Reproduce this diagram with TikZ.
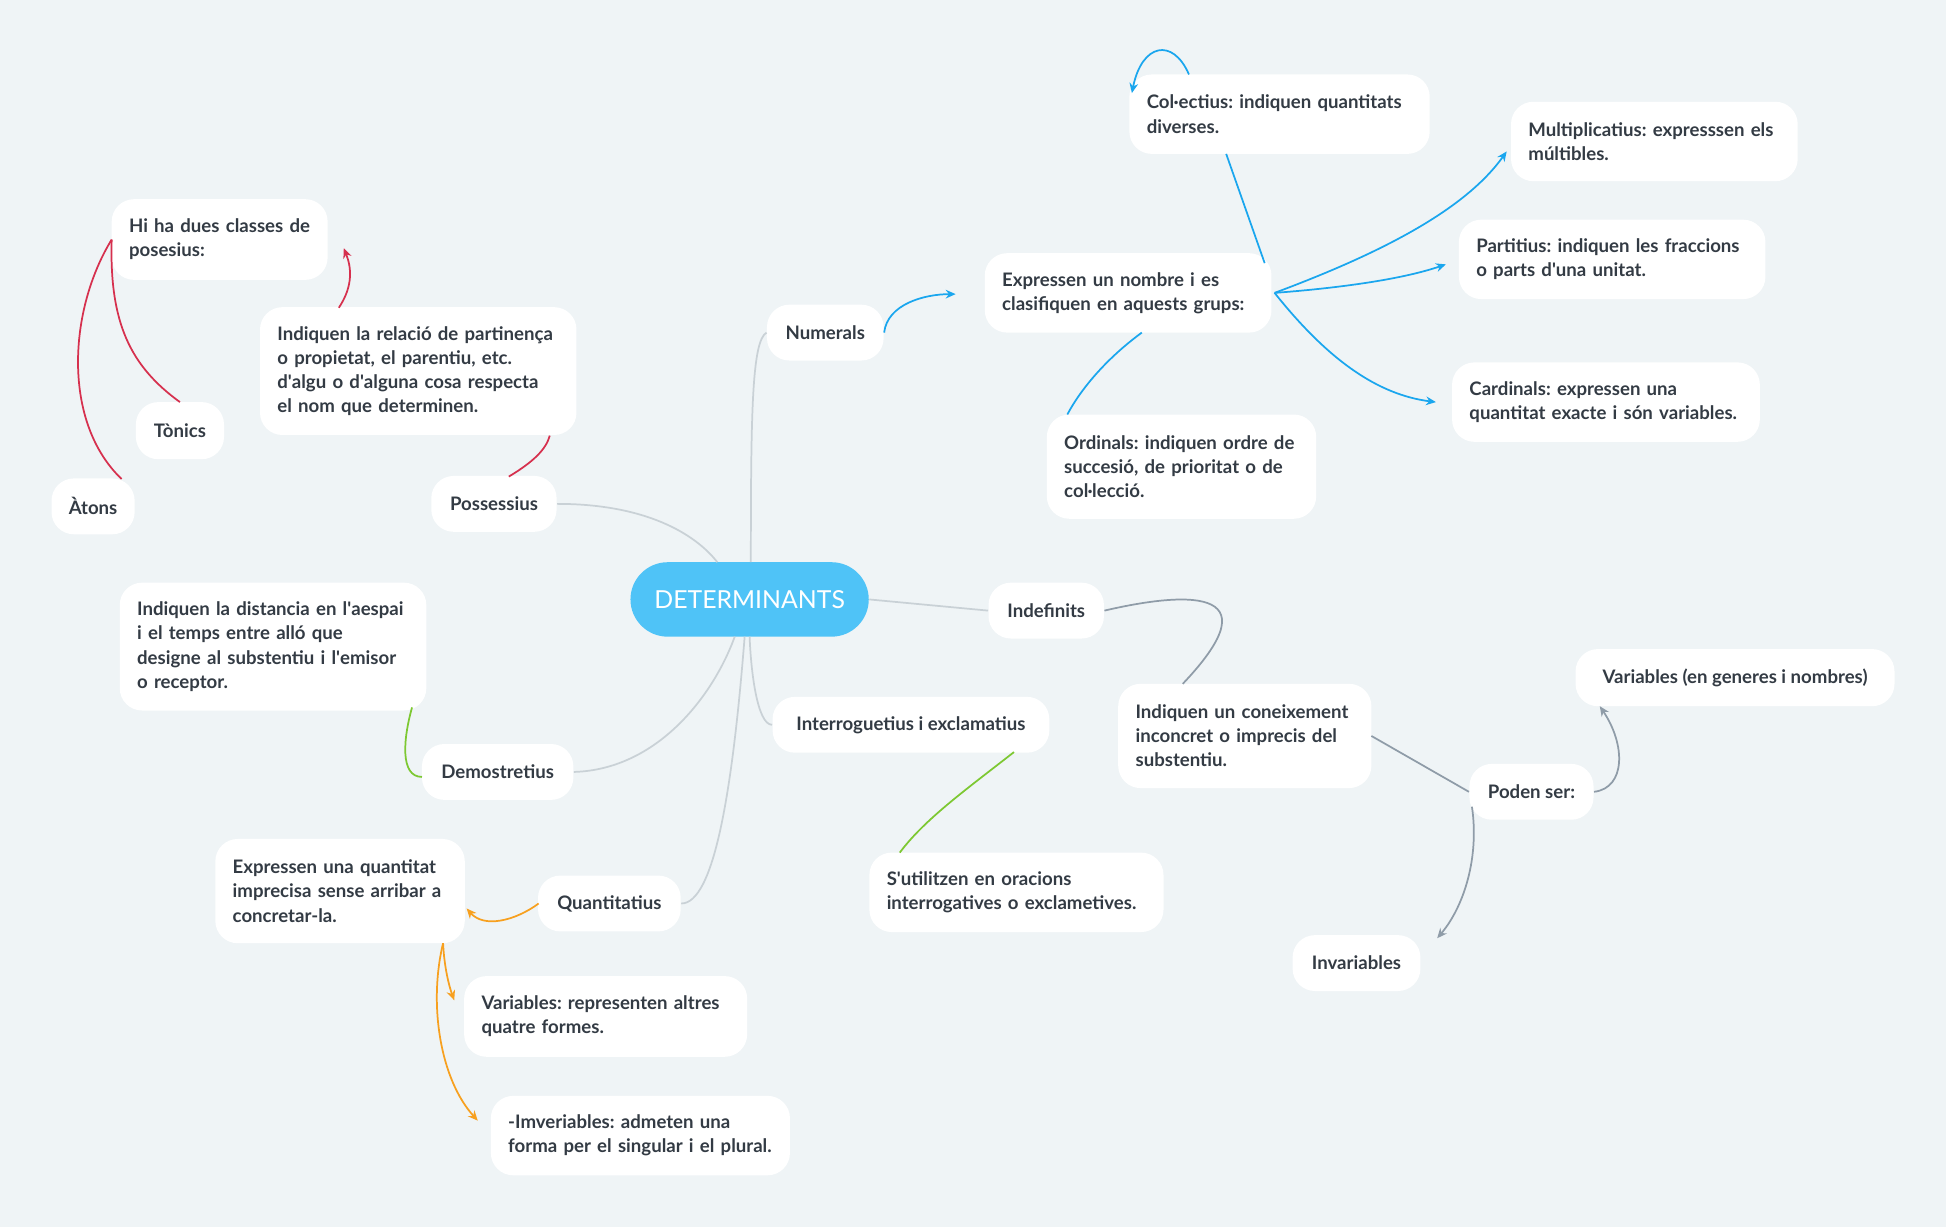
\documentclass[tikz,border=0pt]{standalone}
\usepackage{fontspec}
\setmainfont{Lato}
\frenchspacing
\usetikzlibrary{arrows.meta}
\definecolor{bg}{HTML}{EFF4F6}
\definecolor{mainc}{HTML}{4FC3F7}
\definecolor{gl}{HTML}{C9D1D6}
\definecolor{bl}{HTML}{1AA6EE}
\definecolor{rd}{HTML}{D6304E}
\definecolor{gr}{HTML}{7DC832}
\definecolor{og}{HTML}{F7A01F}
\definecolor{gb}{HTML}{8F9CA8}
\definecolor{tx}{HTML}{333B44}
\newcommand{\q}{\textquotesingle}
\tikzset{
 bx/.style 2 args={draw=none,fill=white,rounded corners=9pt,inner xsep=7pt,inner ysep=0pt,
   minimum width=#1*0.5pt,minimum height=#2*0.5pt,text width=#1*0.5pt-14pt,align=left,
   font=\fontsize{7.5}{9.75}\selectfont\bfseries,text=tx},
 sm/.style 2 args={draw=none,fill=white,rounded corners=9pt,inner sep=0pt,
   minimum width=#1*0.5pt,minimum height=#2*0.5pt,align=center,
   font=\fontsize{7.5}{9.75}\selectfont\bfseries,text=tx},
 ln/.style={line width=0.7pt},
 ar/.style={line width=0.7pt,-{Stealth[length=4pt,width=3.5pt]}},
}
\begin{document}
\begin{tikzpicture}[x=0.5pt,y=-0.5pt]
\fill[bg] (0,0) rectangle (1568,989);
\useasboundingbox (0,0) rectangle (1568,989);
\node[fill=mainc,rounded corners=15pt,minimum width=96pt,minimum height=30pt,text=white,font=\fontsize{10}{12}\selectfont] (main) at (604,483) {DETERMINANTS};
\node[sm={94}{45}] (num) at (665,268) {Numerals};
\node[bx={231}{64}] (exp) at (909,236) {Expressen un nombre i es\\clasifiquen en aquests grups:};
\node[bx={242}{64}] (col) at (1031,92) {Col·ectius: indiquen quantitats\\diverses.};
\node[bx={231}{64}] (mul) at (1333,114) {Multiplicatius: expresssen els\\múltibles.};
\node[bx={247}{64}] (par) at (1299,209) {Partitius: indiquen les fraccions\\o parts d\q una unitat.};
\node[bx={248}{64}] (car) at (1294,324) {Cardinals: expressen una\\quantitat exacte i són variables.};
\node[bx={217}{84}] (ord) at (952,376) {Ordinals: indiquen ordre de\\succesió, de prioritat o de\\col·lecció.};
\node[sm={101}{45}] (pos) at (398,406) {Possessius};
\node[bx={255}{103}] (rel) at (337,299) {Indiquen la relació de partinença\\o propietat, el parentiu, etc.\\d\q algu o d\q alguna cosa respecta\\el nom que determinen.};
\node[bx={174}{65}] (hi) at (177,193) {Hi ha dues classes de\\posesius:};
\node[sm={71}{46}] (ton) at (145,347) {Tònics};
\node[sm={67}{45}] (ato) at (75,408) {Àtons};
\node[sm={122}{45}] (dem) at (401,622) {Demostretius};
\node[bx={247}{103}] (dis) at (220,521) {Indiquen la distancia en l\q aespai\\i el temps entre alló que\\designe al substentiu i l\q emisor\\o receptor.};
\node[sm={115}{45}] (qua) at (491,728) {Quantitatius};
\node[bx={201}{84}] (eq) at (274,718) {Expressen una quantitat\\imprecisa sense arribar a\\concretar-la.};
\node[bx={228}{65}] (var) at (488,819) {Variables: representen altres\\quatre formes.};
\node[bx={241}{64}] (imv) at (516,915) {-Imveriables: admeten una\\forma per el singular i el plural.};
\node[sm={223}{45}] (int) at (734,584) {Interroguetius i exclamatius};
\node[bx={237}{64}] (sut) at (819,719) {S\q utilitzen en oracions\\interrogatives o exclametives.};
\node[sm={93}{45}] (ind) at (843,492) {Indefinits};
\node[bx={204}{84}] (con) at (1003,593) {Indiquen un coneixement\\inconcret o imprecis del\\substentiu.};
\node[sm={100}{45}] (pod) at (1234,638) {Poden ser:};
\node[sm={257}{46}] (vg) at (1398,546) {Variables (en generes i nombres)};
\node[sm={103}{45}] (inv) at (1093,776) {Invariables};

% gray main branches
\draw[ln,gl] (pos.east) .. controls (520,406) and (560,430) .. (578,453);
\draw[ln,gl] (num.west) .. controls (606,275) and (605,330) .. (605,453);
\draw[ln,gl] (dem.east) .. controls (530,620) and (575,560) .. (592,513);
\draw[ln,gl] (qua.east) .. controls (575,728) and (590,640) .. (600,513);
\draw[ln,gl] (int.west) .. controls (610,584) and (605,540) .. (604,513);
\draw[ln,gl] (main.east) -- (ind.west);
% blue
\draw[ar,bl] (num.east) .. controls (715,245) and (745,237) .. (770,237);
\draw[ln,bl] (1019,212) -- (988,124);
\draw[ar,bl] (958,60) .. controls (945,30) and (920,35) .. (912,75);
\draw[ar,bl] (1027,236) .. controls (1110,205) and (1180,170) .. (1214,122);
\draw[ar,bl] (1027,236) .. controls (1080,232) and (1130,225) .. (1165,213);
\draw[ar,bl] (1027,236) .. controls (1070,290) and (1110,318) .. (1157,324);
\draw[ln,bl] (920,268) .. controls (890,290) and (870,315) .. (860,334);
% red
\draw[ln,rd] (410,384) .. controls (430,372) and (440,362) .. (443,351);
\draw[ar,rd] (273,248) .. controls (285,230) and (283,215) .. (277,200);
\draw[ln,rd] (90,193) .. controls (88,260) and (105,295) .. (145,324);
\draw[ln,rd] (90,193) .. controls (55,250) and (50,340) .. (98,386);
% green
\draw[ln,gr] (340,626) .. controls (322,626) and (325,595) .. (332,570);
\draw[ln,gr] (817,606) .. controls (780,635) and (745,660) .. (725,687);
% orange
\draw[ar,og] (434,728) .. controls (415,742) and (390,748) .. (376,732);
\draw[ar,og] (357,760) .. controls (358,780) and (362,795) .. (366,806);
\draw[ar,og] (357,760) .. controls (345,810) and (355,870) .. (385,903);
% gray-blue
\draw[ln,gb] (ind.east) .. controls (950,478) and (1030,470) .. (953,551);
\draw[ln,gb] (1105,593) -- (pod.west);
\draw[ar,gb] (pod.east) .. controls (1310,635) and (1310,600) .. (1289,569);
\draw[ar,gb] (1186,650) .. controls (1192,690) and (1180,730) .. (1158,756);
\end{tikzpicture}
\end{document}
